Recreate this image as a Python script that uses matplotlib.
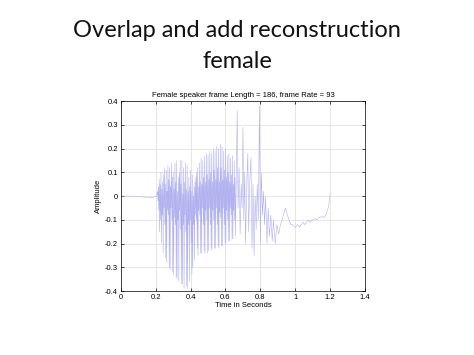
import numpy as np
import matplotlib.pyplot as plt

# silence before speech
quiet_t = [0.0, 0.05, 0.10, 0.15, 0.17, 0.19, 0.205]
quiet_v = [0.0, 0.0, -0.002, -0.005, -0.006, -0.004, 0.0]

# voiced part: alternating peaks / troughs every 2.5 ms from 0.21 s
voiced_start = 0.21
voiced_step = 0.0025
voiced_v = [
    0.02, -0.02, 0.04, -0.06,  0.07, -0.15, 0.05, -0.10,  0.10, -0.20, 0.03, -0.08,
    0.06, -0.24, 0.09, -0.05,  0.12, -0.12, 0.05, -0.26,  0.11, -0.28, 0.02, -0.06,
    0.13, -0.08, 0.07, -0.30,  0.12, -0.31, 0.04, -0.05,  0.14, -0.10, 0.08, -0.32,
    0.10, -0.33, 0.03, -0.09,  0.14, -0.12, 0.06, -0.34,  0.15, -0.35, 0.02, -0.10,
    0.08, -0.36, 0.10, -0.06,  0.15, -0.14, 0.05, -0.37,  0.15, -0.37, 0.01, -0.12,
    0.12, -0.39, 0.06, -0.08,  0.14, -0.15, 0.03, -0.38,  0.13, -0.39, 0.02, -0.12,
    0.08, -0.36, 0.04, -0.10,  0.11, -0.20, 0.02, -0.33,  0.09, -0.30, 0.00, -0.12,
    0.04, -0.27, 0.06, -0.08,  0.08, -0.10, 0.10, -0.22,  0.12, -0.25, 0.04, -0.06,
    0.14, -0.08, 0.06, -0.24,  0.16, -0.24, 0.05, -0.05,  0.15, -0.12, 0.08, -0.23,
    0.17, -0.24, 0.06, -0.06,  0.18, -0.10, 0.09, -0.24,  0.17, -0.23, 0.07, -0.05,
    0.19, -0.12, 0.10, -0.22,  0.18, -0.23, 0.06, -0.06,  0.20, -0.10, 0.11, -0.22,
    0.19, -0.22, 0.07, -0.05,  0.21, -0.12, 0.12, -0.21,  0.20, -0.22, 0.06, -0.07,
    0.22, -0.09, 0.12, -0.21,  0.21, -0.21, 0.07, -0.05,  0.19, -0.12, 0.11, -0.20,
    0.20, -0.20, 0.08, -0.06,  0.17, -0.10, 0.10, -0.19,  0.18, -0.19, 0.06, -0.05,
    0.16, -0.08, 0.09, -0.18,  0.17, -0.18, 0.05, -0.06,  0.15, -0.10, 0.08, -0.17,
]

# tail: isolated spikes then slow drift back to zero
tail_t = [0.662, 0.667, 0.672, 0.678, 0.684, 0.690, 0.695, 0.700, 0.705, 0.710,
          0.715, 0.722, 0.728, 0.733, 0.740, 0.746, 0.752, 0.758, 0.764, 0.770,
          0.776, 0.782, 0.788, 0.795, 0.800, 0.806, 0.812, 0.818, 0.824, 0.830,
          0.838, 0.845, 0.852, 0.860, 0.868, 0.875, 0.885, 0.895, 0.905, 0.915,
          0.925, 0.935, 0.945, 0.955, 0.965, 0.975, 0.985, 0.995, 1.005, 1.015,
          1.025, 1.035, 1.045, 1.055, 1.065, 1.075, 1.085, 1.095, 1.105, 1.115,
          1.125, 1.135, 1.145, 1.155, 1.165, 1.175, 1.185, 1.192, 1.197, 1.200]
tail_v = [0.10, 0.36, -0.05, 0.12, -0.16, 0.05, -0.05, 0.29, -0.10, 0.10,
          -0.20, 0.05, 0.18, -0.15, 0.08, 0.16, -0.22, 0.05, -0.25, 0.00,
          -0.14, 0.05, -0.10, 0.38, -0.20, 0.10, -0.08, 0.02, -0.12, 0.00,
          -0.20, -0.05, -0.17, -0.08, -0.19, -0.10, -0.20, -0.12, -0.16, -0.12,
          -0.10, -0.07, -0.05, -0.08, -0.10, -0.12, -0.12, -0.13, -0.13, -0.12,
          -0.13, -0.12, -0.11, -0.12, -0.11, -0.10, -0.11, -0.10, -0.10, -0.095,
          -0.10, -0.09, -0.09, -0.085, -0.09, -0.08, -0.06, -0.04, -0.01, 0.01]

voiced_t = voiced_start + voiced_step * np.arange(len(voiced_v))
t = np.concatenate([quiet_t, voiced_t, tail_t])
v = np.concatenate([quiet_v, voiced_v, tail_v])

plt.rcParams['font.family'] = ['Liberation Sans', 'DejaVu Sans']

fig = plt.figure(figsize=(4.74, 3.55), dpi=100)
fig.text(0.5, 0.915, 'Overlap and add reconstruction', ha='center', va='center',
         fontsize=17, family='Lato', color='#111111')
fig.text(0.5, 0.828, 'female', ha='center', va='center', fontsize=17, family='Lato',
         color='#111111')

ax = fig.add_axes([0.255, 0.180, 0.515, 0.535])
ax.plot(t, v, color='#b2b2f0', lw=0.4)
ax.set_xlim(0, 1.4)
ax.set_ylim(-0.4, 0.4)
ax.set_xticks(np.arange(0, 1.41, 0.2))
ax.set_xticklabels(['0', '0.2', '0.4', '0.6', '0.8', '1', '1.2', '1.4'])
ax.set_yticks(np.arange(-0.4, 0.41, 0.1))
ax.set_yticklabels(['-0.4', '-0.3', '-0.2', '-0.1', '0', '0.1', '0.2', '0.3', '0.4'])
ax.grid(True, color='#dcdcdc', lw=0.5)
ax.tick_params(direction='in', length=2, width=0.5, labelsize=5.5, pad=2,
               top=True, right=True)
for s in ax.spines.values():
    s.set_linewidth(0.5)
ax.set_title('Female speaker frame Length = 186, frame Rate = 93', fontsize=5.5, pad=3)
ax.set_xlabel('Time in Seconds', fontsize=5.5, labelpad=1)
ax.set_ylabel('Amplitude', fontsize=5.5, labelpad=2)

fig.savefig('out.png', dpi=100)
